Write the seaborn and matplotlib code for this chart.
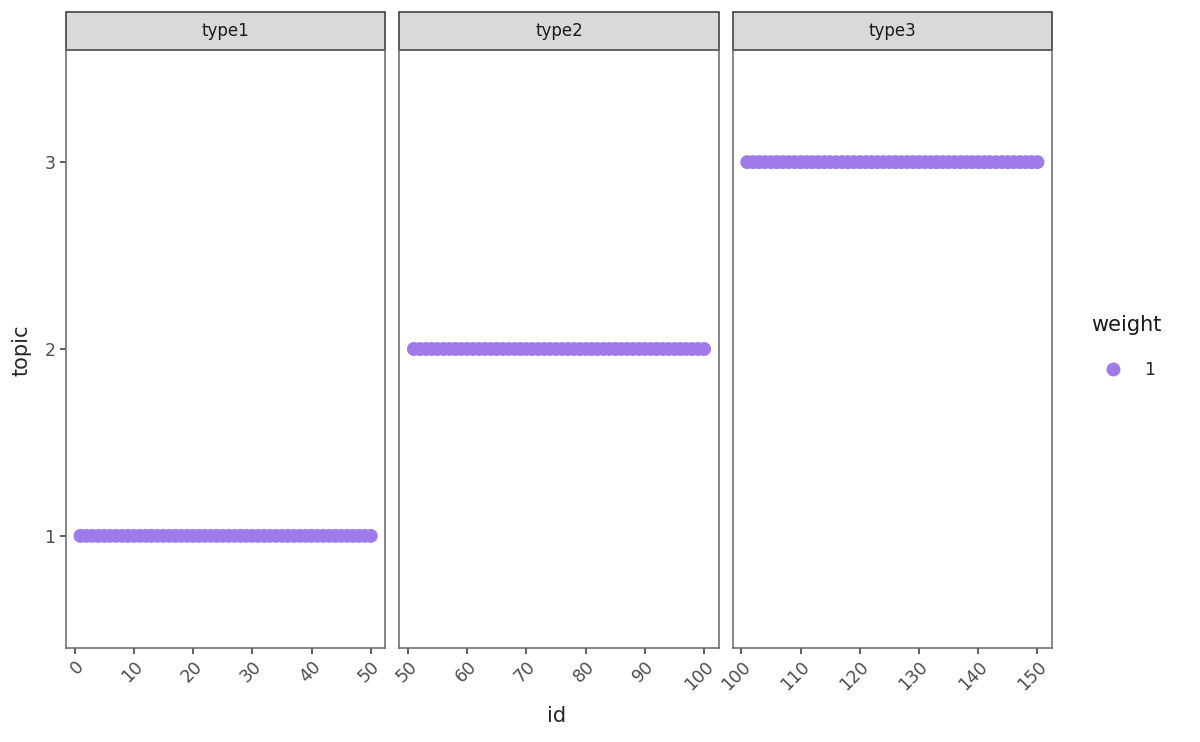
import matplotlib
matplotlib.use("Agg")
import matplotlib.pyplot as plt
from matplotlib.patches import Rectangle
import numpy as np
import pandas as pd
import seaborn as sns

# ids per facet (one point per id)
ids_type1 = [1, 2, 3, 4, 5, 6, 7, 8, 9, 10, 11, 12, 13, 14, 15, 16, 17, 18, 19, 20,
             21, 22, 23, 24, 25, 26, 27, 28, 29, 30, 31, 32, 33, 34, 35, 36, 37, 38, 39, 40,
             41, 42, 43, 44, 45, 46, 47, 48, 49, 50]
ids_type2 = [51, 52, 53, 54, 55, 56, 57, 58, 59, 60, 61, 62, 63, 64, 65, 66, 67, 68, 69, 70,
             71, 72, 73, 74, 75, 76, 77, 78, 79, 80, 81, 82, 83, 84, 85, 86, 87, 88, 89, 90,
             91, 92, 93, 94, 95, 96, 97, 98, 99, 100]
ids_type3 = [101, 102, 103, 104, 105, 106, 107, 108, 109, 110, 111, 112, 113, 114, 115, 116,
             117, 118, 119, 120, 121, 122, 123, 124, 125, 126, 127, 128, 129, 130, 131, 132,
             133, 134, 135, 136, 137, 138, 139, 140, 141, 142, 143, 144, 145, 146, 147, 148,
             149, 150]
types = ["type1", "type2", "type3"]
topics = [1, 2, 3]          # topic of every point in each facet
weights = [1, 1, 1]         # weight of every point in each facet

rows = []
for t, idl, tp, w in zip(types, [ids_type1, ids_type2, ids_type3], topics, weights):
    for i in idl:
        rows.append({"id": i, "topic": tp, "type": t, "weight": str(w)})
df = pd.DataFrame(rows)

sns.set_style("white")
plt.rcParams['font.family'] = ['DejaVu Sans']

purple = "#9F7AEA"
g = sns.relplot(data=df, x="id", y="topic", col="type", hue="weight",
                palette=[purple], s=100, linewidth=0, alpha=1,
                facet_kws={"sharex": False, "sharey": True},
                height=5, aspect=0.8)
fig = g.figure
fig.set_size_inches(12, 7.42)
fig.subplots_adjust(left=66/1200, right=1052/1200, bottom=1-648/742, top=1-50/742, wspace=0.044)

xticks = [[0, 10, 20, 30, 40, 50], [50, 60, 70, 80, 90, 100], [100, 110, 120, 130, 140, 150]]
for k, (ax, t) in enumerate(zip(g.axes.flat, types)):
    ax.set_title("")
    ax.set_xlabel("")
    ax.set_ylabel("")
    d = df[df["type"] == t]["id"]
    pad = (d.max() - d.min()) * 0.05
    ax.set_xlim(d.min() - pad, d.max() + pad)
    ax.set_ylim(0.4, 3.6)
    ax.set_xticks(xticks[k])
    ax.set_yticks([1, 2, 3])
    for sp in ax.spines.values():
        sp.set_visible(True)
        sp.set_color("#666666")
        sp.set_linewidth(1.1)
    ax.tick_params(axis="x", length=4, width=1.1, color="#333333", labelcolor="#4D4D4D",
                   labelsize=12.5, bottom=True, rotation=45, pad=3)
    for lab in ax.get_xticklabels():
        lab.set_ha("right")
        lab.set_rotation_mode("anchor")
    ax.tick_params(axis="y", length=4, width=1.1, color="#333333", labelcolor="#4D4D4D",
                   labelsize=12.5, left=(k == 0))
    # strip
    strip_h = 38 / 598
    ax.add_patch(Rectangle((0, 1), 1, strip_h, transform=ax.transAxes, clip_on=False,
                           facecolor="#D9D9D9", edgecolor="#333333", linewidth=1.1))
    ax.text(0.5, 1 + strip_h / 2, t, transform=ax.transAxes, ha="center", va="center",
            fontsize=12, color="#1A1A1A")

fig.text(557/1200, 1-716/742, "id", ha="center", va="center", fontsize=15)
fig.text(22/1200, 1-350/742, "topic", ha="center", va="center", fontsize=15, rotation=90)

sns.move_legend(g, "center left", bbox_to_anchor=(1075/1200, 1-347/742), frameon=False,
                title="weight", fontsize=12.5, title_fontsize=15, markerscale=1.0,
                labelspacing=1.45)
g._legend.get_title().set_color("#1A1A1A")

fig.savefig("out.png", dpi=100)
